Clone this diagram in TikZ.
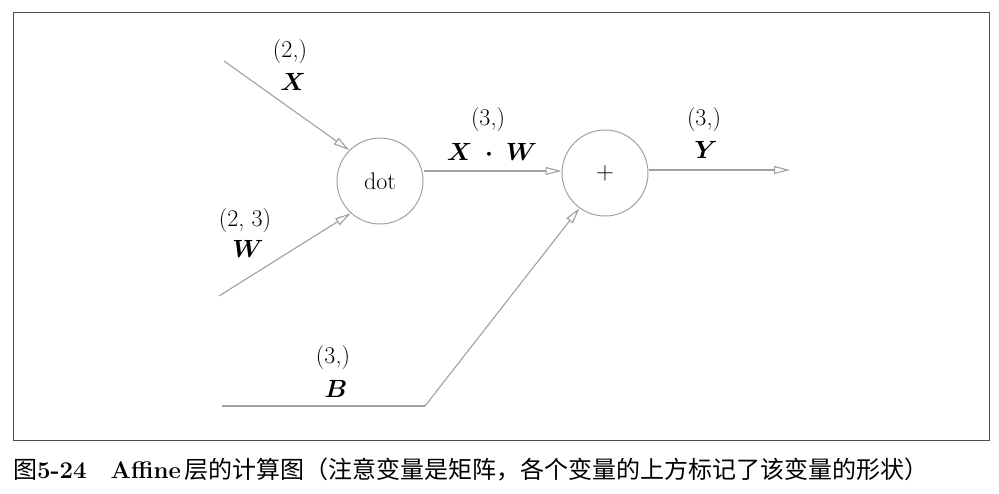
\documentclass[tikz,border=0pt]{standalone}
\usepackage{fontspec}
\usepackage{amsmath,bm}
\newfontfamily\cjk{Noto Sans CJK SC}
\usetikzlibrary{arrows.meta}
\definecolor{ln}{RGB}{160,160,160}
\tikzset{
  wire/.style={draw=ln,line width=1.1pt},
  arr/.style={wire,-{Triangle[open,length=16pt,width=8pt]}},
  op/.style={circle,draw=ln,line width=1pt,minimum size=86pt,inner sep=0pt,font=\fontsize{24}{28}\selectfont},
  lbl/.style={inner sep=0pt,font=\fontsize{24}{28}\selectfont}
}
\begin{document}
\begin{tikzpicture}[x=1pt,y=-1pt]
\useasboundingbox (0,0) rectangle (999,493);
\draw[black!70,line width=0.8pt] (13,12) rectangle (989,440);
\node[op] (dot) at (380,181) {dot};
\node[op] (plus) at (605,173) {$+$};
\coordinate (xs) at (224,61);
\coordinate (ws) at (219,296);
\coordinate (bs) at (222,406);
\coordinate (bc) at (425,406);
\coordinate (ye) at (790,170);
\draw[arr] (xs) -- (dot.135);
\draw[arr] (ws) -- (dot.-132);
\draw[arr] (dot.east |- 0,171) coordinate (d1) -- (plus.west |- d1);
\draw[arr] (plus.east |- ye) -- (ye);
\draw[wire] (bs) -- (bc);
\draw[arr] (bc) -- (plus.-126);
\node[lbl] (l1) at (290,52) {(2,)};
\node[lbl] (l2) at (293,82) {$\bm{X}$};
\node[lbl] (l3) at (245,221) {(2, 3)};
\node[lbl] (l4) at (248,249) {$\bm{W}$};
\node[lbl] (l5) at (488,120) {(3,)};
\node[lbl] (l6) at (492,152) {$\bm{X}\ \bm{\cdot}\ \bm{W}$};
\node[lbl] (l7) at (704,120) {(3,)};
\node[lbl] (l8) at (706,150) {$\bm{Y}$};
\node[lbl] (l9) at (333,358) {(3,)};
\node[lbl] (l10) at (336,389) {$\bm{B}$};
\node[lbl,anchor=west] (cap) at (13,470) {{\cjk 图}\textbf{5-24}\quad \textbf{Affine}\,{\cjk 层的计算图（注意变量是矩阵，各个变量的上方标记了该变量的形状）}};
\end{tikzpicture}
\end{document}
